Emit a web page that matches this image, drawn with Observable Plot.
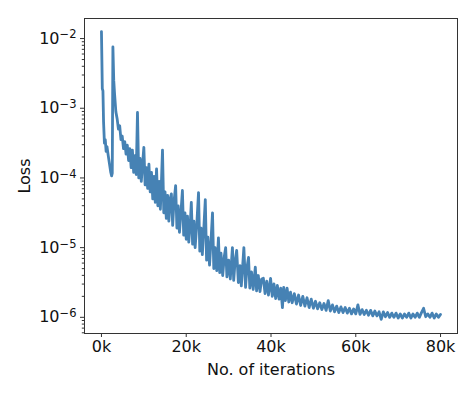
<!DOCTYPE html>
<html><head><meta charset="utf-8">
<script src="https://cdn.jsdelivr.net/npm/d3@7"></script>
<script src="https://cdn.jsdelivr.net/npm/@observablehq/plot@0.6"></script>
<style>
html,body{margin:0;padding:0;background:#fff;}
#chart svg{display:block;}
</style></head><body><div id="chart"></div>
<script>
const iterations = [
  0,100,200,350,500,700,900,1100,1300,1600,1900,2200,2400,2550,2700,2900,3100,3400,3700,4000,
  4300,4600,4900,5200,5500,5800,6100,6400,6700,7000,7300,7600,7900,8200,8500,8800,9100,9400,9700,10000,
  10300,10600,10900,11200,11500,11800,12100,12400,12700,13000,13300,13600,13900,14100,14400,14700,15000,15300,15600,15900,
  16200,16500,16800,17100,17500,17800,18100,18400,18800,19100,19400,19700,20000,20300,20600,21000,21200,21500,21800,22100,
  22500,22900,23200,23500,23800,24100,24500,24800,25100,25500,25800,26200,26500,26800,27200,27600,27900,28200,28600,29000,
  29300,29600,30000,30400,30900,31200,31500,31900,32300,32700,33000,33600,34000,34300,34700,35000,35400,35800,36300,36600,
  37000,37400,37800,38200,38600,39000,39400,39900,40300,40700,41100,41500,41900,42300,42700,43000,43400,43800,44200,44600,
  45000,45500,46000,46500,47000,47500,48000,48500,49000,49500,50000,50500,51000,51500,52000,52500,53000,53500,54000,54500,
  55000,55500,56000,56500,57000,57500,58000,58500,59000,59500,60000,60500,61000,61500,62000,62500,63000,63500,64000,64500,
  65000,65500,66000,66500,67000,67500,68000,68500,69000,69500,70000,70500,71000,71500,72000,72500,73000,73500,74000,74500,
  75000,75500,76000,76500,77000,77500,78000,78500,79000,79500,80000
];
const loss = [
  1.26e-2,5.01e-3,1.91e-3,1.78e-3,6.31e-4,3.16e-4,3.55e-4,2.40e-4,2.82e-4,2.09e-4,1.58e-4,1.20e-4,1.07e-4,1.17e-4,7.59e-3,2.51e-3,1.58e-3,8.91e-4,7.08e-4,5.01e-4,
  5.62e-4,3.55e-4,3.98e-4,2.63e-4,3.31e-4,2.19e-4,2.95e-4,1.78e-4,2.63e-4,1.41e-4,2.51e-4,1.20e-4,2.09e-4,1.12e-4,8.71e-4,1.00e-4,1.91e-4,8.91e-5,1.58e-4,2.75e-4,
  7.94e-5,1.41e-4,7.08e-5,1.58e-4,6.31e-5,1.20e-4,5.01e-5,1.05e-4,4.47e-5,1.35e-4,3.98e-5,8.91e-5,3.55e-5,7.08e-5,2.51e-4,3.16e-5,6.31e-5,2.63e-5,5.62e-5,2.40e-5,
  5.01e-5,5.89e-5,2.09e-5,4.47e-5,7.76e-5,1.91e-5,3.98e-5,1.66e-5,3.55e-5,6.61e-5,1.51e-5,3.16e-5,1.32e-5,2.82e-5,1.20e-5,2.51e-5,4.47e-5,1.12e-5,2.40e-5,1.00e-5,
  2.19e-5,6.17e-5,8.91e-6,1.91e-5,7.94e-6,1.66e-5,4.90e-5,6.61e-6,1.41e-5,5.62e-6,1.12e-5,3.16e-5,5.01e-6,1.00e-5,4.68e-6,1.38e-5,4.37e-6,8.32e-6,3.98e-6,7.59e-6,
  1.00e-5,3.80e-6,6.61e-6,3.55e-6,1.00e-5,3.39e-6,6.03e-6,9.12e-6,3.16e-6,5.50e-6,2.82e-6,1.00e-5,2.69e-6,5.01e-6,7.24e-6,2.63e-6,4.47e-6,2.51e-6,5.25e-6,2.40e-6,
  3.98e-6,2.34e-6,3.55e-6,3.63e-6,2.19e-6,3.31e-6,2.09e-6,3.63e-6,2.00e-6,3.02e-6,1.86e-6,2.88e-6,1.82e-6,2.63e-6,1.38e-6,2.69e-6,1.74e-6,2.63e-6,1.66e-6,2.29e-6,
  1.62e-6,2.19e-6,1.55e-6,2.09e-6,1.48e-6,2.00e-6,1.45e-6,1.91e-6,1.38e-6,1.82e-6,1.35e-6,1.70e-6,1.32e-6,1.62e-6,1.29e-6,1.58e-6,1.26e-6,1.74e-6,1.23e-6,1.51e-6,
  1.20e-6,1.45e-6,1.17e-6,1.41e-6,1.17e-6,1.38e-6,1.15e-6,1.35e-6,1.12e-6,1.32e-6,1.12e-6,1.51e-6,1.10e-6,1.29e-6,1.10e-6,1.26e-6,1.07e-6,1.26e-6,1.05e-6,1.23e-6,
  1.05e-6,1.20e-6,9.33e-7,1.20e-6,1.02e-6,1.17e-6,1.00e-6,1.15e-6,1.00e-6,1.15e-6,9.77e-7,1.12e-6,9.77e-7,1.12e-6,1.00e-6,1.15e-6,9.77e-7,1.12e-6,1.00e-6,1.15e-6,
  1.00e-6,1.17e-6,1.35e-6,1.02e-6,1.12e-6,1.00e-6,1.15e-6,9.77e-7,1.12e-6,1.00e-6,1.10e-6
];
const xTickValues = [0, 20000, 40000, 60000, 80000];
const xTickLabels = ["0k", "20k", "40k", "60k", "80k"];
const yTickValues = [1e-6, 1e-5, 1e-4, 1e-3, 1e-2];
const yTickExponents = ["−6", "−5", "−4", "−3", "−2"];
const xDomain = [-4000, 84000];
const yDomain = [5.86e-7, 1.94e-2];
const lineColor = "#4682b4";
const axisColor = "#333";

const data = iterations.map((it, i) => ({it, loss: loss[i]}));
const minorTicks = d3.scaleLog().domain(yDomain).ticks()
  .filter(v => !yTickValues.some(t => Math.abs(t - v) / t < 1e-6));

const chart = Plot.plot({
  width: 474, height: 395,
  marginLeft: 84, marginRight: 17, marginTop: 18, marginBottom: 62,
  style: {fontFamily: "'DejaVu Sans', sans-serif", fontSize: "16px", color: "#111", background: "#fff"},
  x: {domain: xDomain},
  y: {type: "log", domain: yDomain},
  marks: [
    Plot.line(data, {x: "it", y: "loss", stroke: lineColor, strokeWidth: 2.8, strokeLinejoin: "round"}),
    Plot.axisY(minorTicks, {tickSize: 2.2, tickFormat: () => "", label: null, stroke: axisColor}),
    Plot.axisY({
      ticks: yTickValues, tickSize: 4, tickPadding: 4, stroke: axisColor,
      tickFormat: d => "10" + yTickExponents[yTickValues.findIndex(t => Math.abs(t - d) / t < 1e-6)],
      label: "Loss", labelAnchor: "center", labelOffset: 66, labelArrow: "none"
    }),
    Plot.axisX({
      ticks: xTickValues, tickSize: 4, tickPadding: 3, stroke: axisColor,
      tickFormat: d => xTickLabels[xTickValues.indexOf(d)],
      label: "No. of iterations", labelAnchor: "center", labelOffset: 41, labelArrow: "none"
    }),
    Plot.frame({stroke: axisColor, strokeWidth: 1})
  ]
});

// render exponents as superscripts
chart.querySelectorAll("text").forEach(t => {
  const s = t.textContent;
  const i = yTickExponents.findIndex(e => s === "10" + e);
  if (i >= 0) {
    t.textContent = "";
    const ns = "http://www.w3.org/2000/svg";
    const a = document.createElementNS(ns, "tspan");
    a.textContent = "10";
    const b = document.createElementNS(ns, "tspan");
    b.textContent = yTickExponents[i];
    b.setAttribute("dy", "-0.45em");
    b.setAttribute("font-size", "0.72em");
    t.appendChild(a); t.appendChild(b);
  }
});
document.getElementById("chart").appendChild(chart);
</script></body></html>
